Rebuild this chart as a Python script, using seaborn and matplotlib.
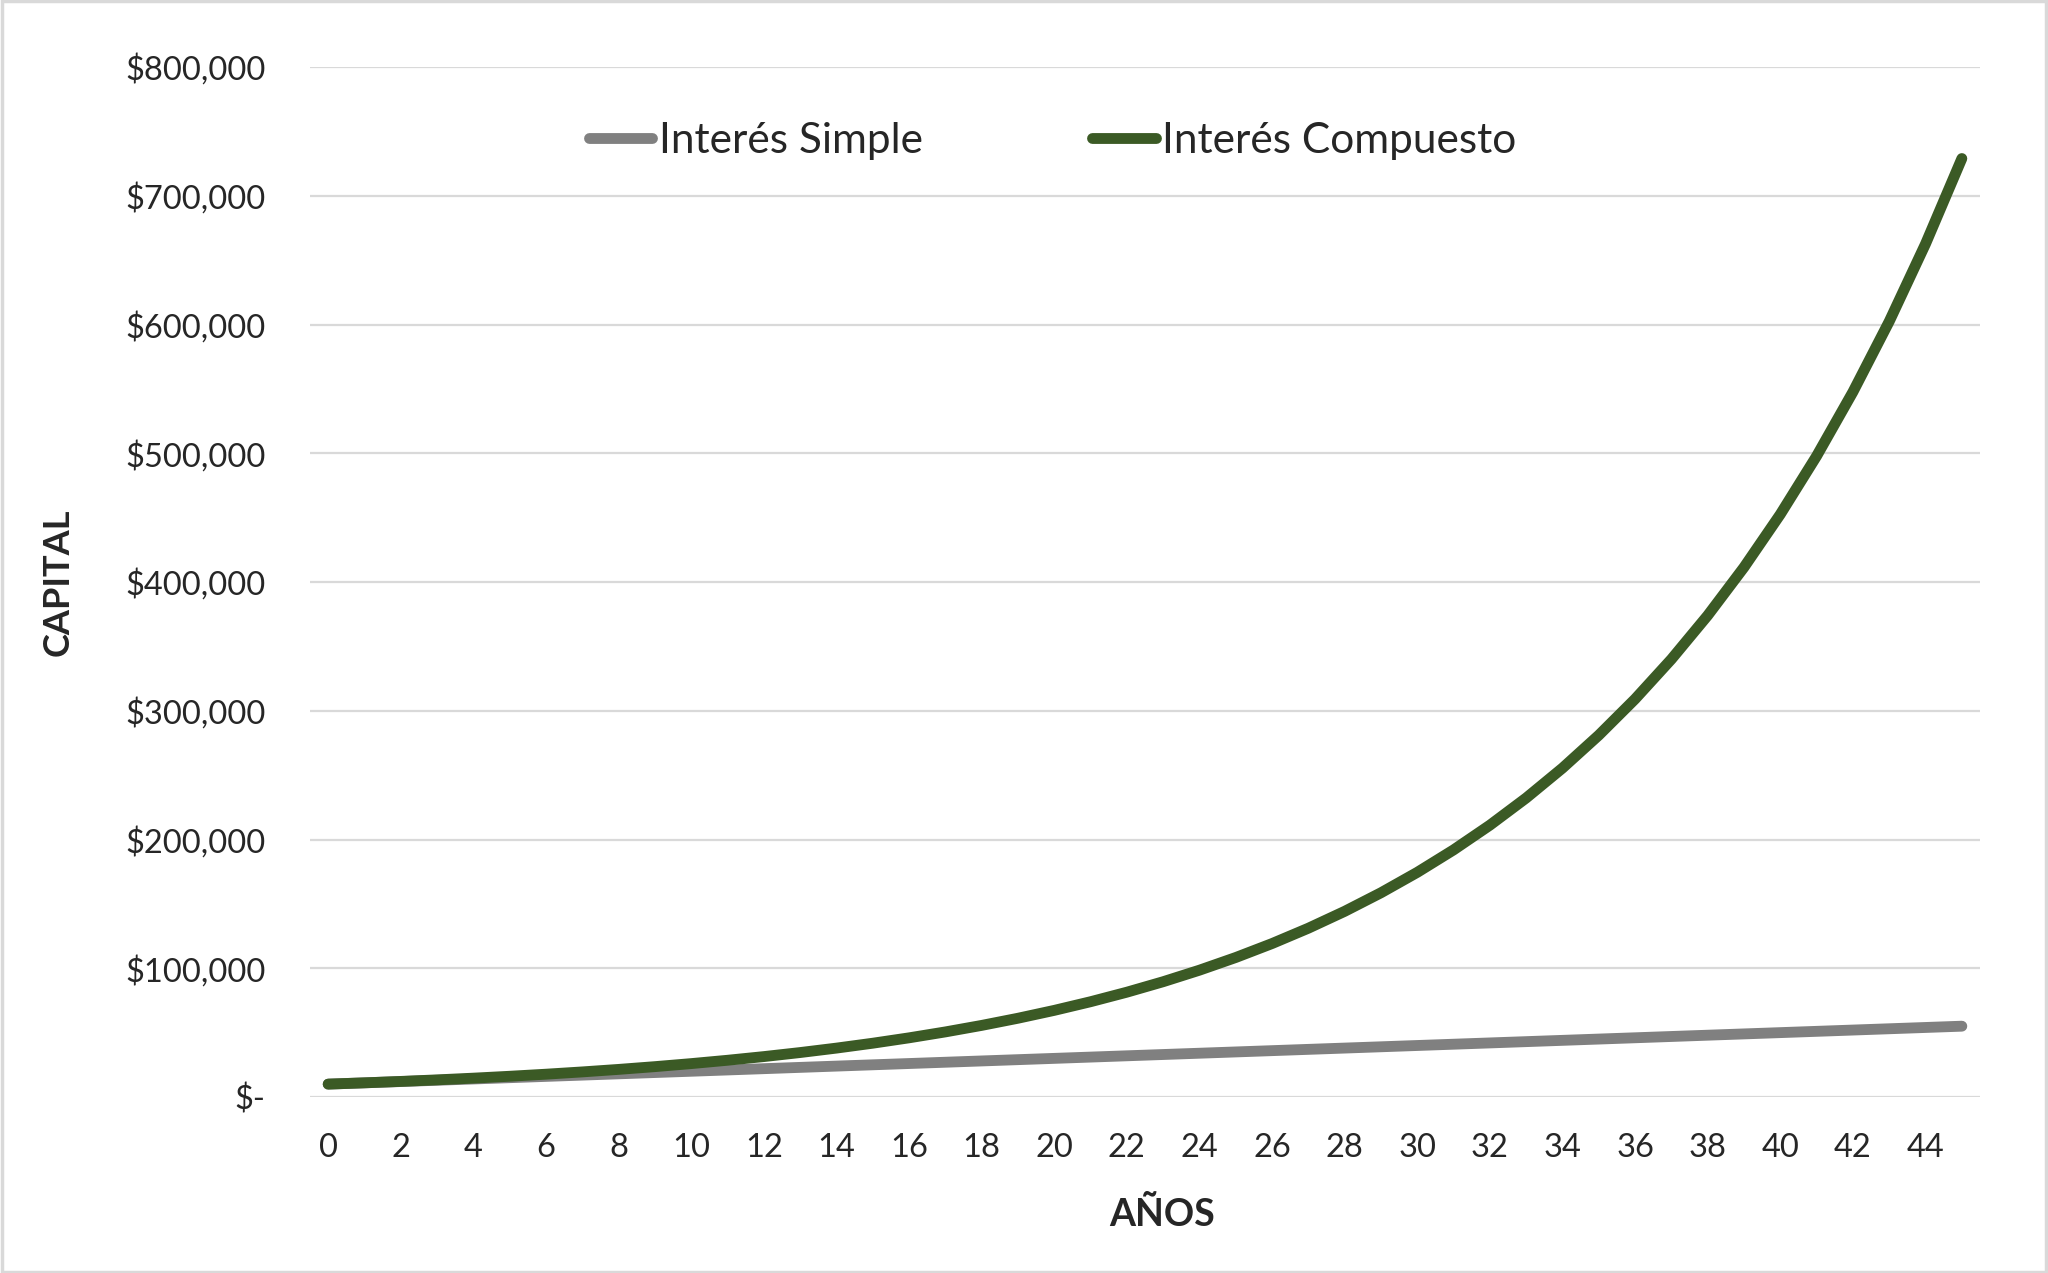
import pandas as pd
import matplotlib.pyplot as plt
import seaborn as sns
from matplotlib.ticker import FuncFormatter, MultipleLocator
from matplotlib.patches import Rectangle

# Data (capital per year)
years = list(range(0, 46))
simple = [10000, 11000, 12000, 13000, 14000, 15000, 16000, 17000, 18000, 19000,
          20000, 21000, 22000, 23000, 24000, 25000, 26000, 27000, 28000, 29000,
          30000, 31000, 32000, 33000, 34000, 35000, 36000, 37000, 38000, 39000,
          40000, 41000, 42000, 43000, 44000, 45000, 46000, 47000, 48000, 49000,
          50000, 51000, 52000, 53000, 54000, 55000]
compound = [10000, 11000, 12100, 13310, 14641, 16105, 17716, 19487, 21436, 23579,
            25937, 28531, 31384, 34523, 37975, 41772, 45950, 50545, 55599, 61159,
            67275, 74002, 81403, 89543, 98497, 108347, 119182, 131100, 144210, 158631,
            174494, 191943, 211138, 232252, 255477, 281024, 309127, 340039, 374043, 411448,
            452593, 497852, 547637, 602401, 662641, 728905]
series_names = ["Interés Simple", "Interés Compuesto"]
series_colors = ["#808080", "#3b5a25"]

df = pd.DataFrame({
    "AÑOS": years * 2,
    "CAPITAL": simple + compound,
    "serie": [series_names[0]] * len(years) + [series_names[1]] * len(years),
})

sns.set_style("white")
plt.rcParams['font.family'] = ['Lato', 'DejaVu Sans']

fig = plt.figure(figsize=(20.48, 12.73), dpi=100)
ax = fig.add_axes([310 / 2048, 1 - 1097 / 1273, 1670 / 2048, 1030 / 1273])

sns.lineplot(data=df, x="AÑOS", y="CAPITAL", hue="serie", hue_order=series_names,
             palette=series_colors, linewidth=7.8, solid_capstyle='round', ax=ax)

ax.set_xlim(-0.5, 45.5)
ax.set_ylim(0, 800000)
ax.xaxis.set_major_locator(MultipleLocator(2))
ax.yaxis.set_major_locator(MultipleLocator(100000))
ax.yaxis.set_major_formatter(FuncFormatter(lambda v, p: "$-" if v == 0 else f"${v:,.0f}"))
ax.grid(axis='y', color='#d9d9d9', linewidth=1.6)
ax.set_axisbelow(True)
for s in ax.spines.values():
    s.set_visible(False)
ax.tick_params(axis='both', length=0, labelsize=23.5)
ax.tick_params(axis='x', pad=26)
ax.tick_params(axis='y', pad=32)

ax.set_xlabel("AÑOS", fontsize=27, fontweight='bold')
ax.set_ylabel("CAPITAL", fontsize=26, fontweight='bold')
ax.xaxis.set_label_coords(0.51, -(1197 - 1097) / 1030)
ax.yaxis.set_label_coords(-(310 - 75) / 1670, 0.5)

ax.legend(loc='center', bbox_to_anchor=(0.514, 0.889), bbox_transform=fig.transFigure,
          ncol=2, frameon=False, fontsize=30.5, handlelength=1.5, handletextpad=0.15,
          columnspacing=4.0, title=None)

fig.patches.append(Rectangle((0.001, 0.001), 0.998, 0.998, transform=fig.transFigure,
                             fill=False, edgecolor='#d9d9d9', linewidth=2.5))

fig.savefig("out.png", dpi=100)
